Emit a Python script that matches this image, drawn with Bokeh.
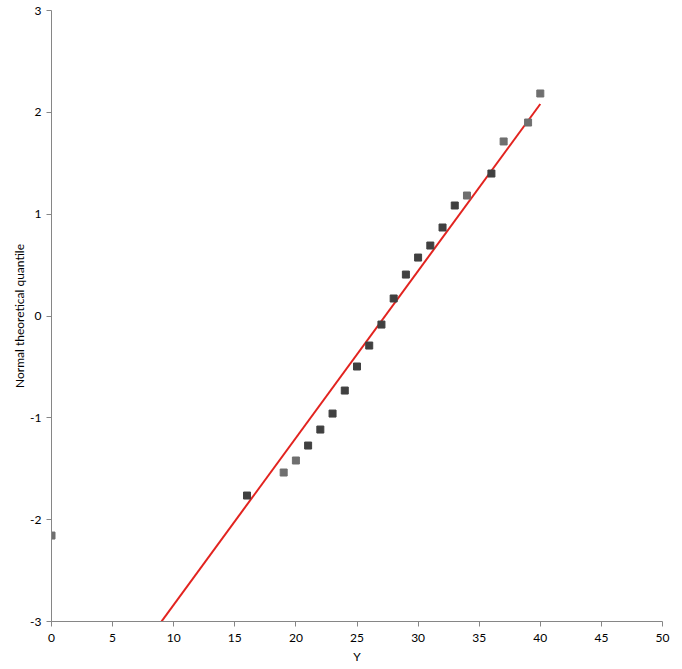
from bokeh.plotting import figure
from bokeh.models import ColumnDataSource, FixedTicker, Range1d, PrintfTickFormatter
from bokeh.embed import file_html
from bokeh.resources import INLINE
import numpy as np

# Data
y_values = [0, 16, 19, 20, 21, 22, 23, 24, 25, 26, 27, 28, 29, 30, 31, 32, 33, 34, 36, 37, 39, 40]
quantiles = [-2.156, -1.763, -1.537, -1.419, -1.272, -1.115, -0.958, -0.732, -0.496, -0.290,
             -0.084, 0.172, 0.407, 0.574, 0.692, 0.869, 1.085, 1.183, 1.399, 1.714, 1.900, 2.185]
point_colors = ["#6f6f6f", "#404040", "#6f6f6f", "#6f6f6f", "#404040", "#404040", "#404040",
                "#404040", "#404040", "#404040", "#404040", "#404040", "#404040", "#404040",
                "#404040", "#404040", "#404040", "#6f6f6f", "#404040", "#6f6f6f", "#6f6f6f",
                "#6f6f6f"]
# Reference normal line: quantile = (Y - mu) / sigma
line_mu = 27.3
line_sigma = 6.1
line_x = [0, 40]
x_ticks = [0, 5, 10, 15, 20, 25, 30, 35, 40, 45, 50]
y_ticks = [-3, -2, -1, 0, 1, 2, 3]

FONT = "Lato"

p = figure(width=682, height=669, output_backend="svg", toolbar_location=None,
           x_range=Range1d(0, 50), y_range=Range1d(-3, 3),
           min_border_left=51, min_border_right=20, min_border_top=10, min_border_bottom=48)
p.outline_line_color = None
p.background_fill_color = "white"
p.border_fill_color = "white"
p.grid.visible = False

lx = np.array(line_x, dtype=float)
ly = (lx - line_mu) / line_sigma
p.line(lx, ly, line_color="#e2231f", line_width=2)

src = ColumnDataSource(dict(x=y_values, y=quantiles, c=point_colors))
p.scatter("x", "y", source=src, marker="square", size=7, fill_color="c", line_color="c")

for ax in (p.xaxis[0], p.yaxis[0]):
    ax.axis_line_color = "#868686"
    ax.major_tick_line_color = "#868686"
    ax.major_tick_in = 0
    ax.major_tick_out = 5
    ax.minor_tick_line_color = None
    ax.major_label_text_font = FONT
    ax.major_label_text_font_size = "12px"
    ax.major_label_text_color = "#000000"
    ax.axis_label_text_font = FONT
    ax.axis_label_text_font_size = "12px"
    ax.axis_label_text_font_style = "normal"
    ax.axis_label_text_color = "#000000"
    ax.formatter = PrintfTickFormatter(format="%d")

p.xaxis[0].major_label_standoff = 7
p.xaxis[0].axis_label_standoff = 4
p.yaxis[0].major_label_standoff = 5
p.yaxis[0].axis_label_standoff = 0
p.xaxis[0].ticker = FixedTicker(ticks=x_ticks)
p.yaxis[0].ticker = FixedTicker(ticks=y_ticks)
p.xaxis[0].axis_label = "Y"
p.yaxis[0].axis_label = "Normal theoretical quantile"

open("out.html", "w").write(file_html(p, INLINE))
